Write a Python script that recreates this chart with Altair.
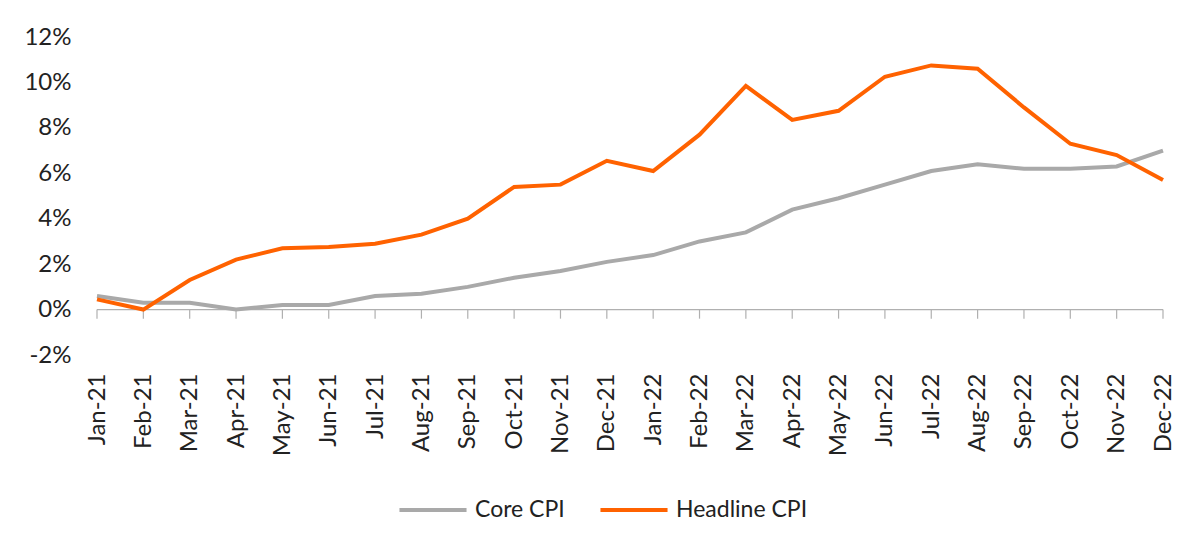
import altair as alt
import pandas as pd

months = ["Jan-21", "Feb-21", "Mar-21", "Apr-21", "May-21", "Jun-21",
          "Jul-21", "Aug-21", "Sep-21", "Oct-21", "Nov-21", "Dec-21",
          "Jan-22", "Feb-22", "Mar-22", "Apr-22", "May-22", "Jun-22",
          "Jul-22", "Aug-22", "Sep-22", "Oct-22", "Nov-22", "Dec-22"]
core_cpi = [0.6, 0.3, 0.3, 0.0, 0.2, 0.2, 0.6, 0.7, 1.0, 1.4, 1.7, 2.1,
            2.4, 3.0, 3.4, 4.4, 4.9, 5.5, 6.1, 6.4, 6.2, 6.2, 6.3, 7.0]
headline_cpi = [0.45, 0.0, 1.3, 2.2, 2.7, 2.75, 2.9, 3.3, 4.0, 5.4, 5.5, 6.55,
                6.1, 7.7, 9.85, 8.35, 8.75, 10.25, 10.75, 10.6, 8.9, 7.3, 6.8, 5.7]
series_names = ["Core CPI", "Headline CPI"]
series_colors = ["#A9A9A9", "#FF6200"]
y_ticks = [-2, 0, 2, 4, 6, 8, 10, 12]

rows = []
for i, m in enumerate(months):
    rows.append({"month": m, "series": series_names[0], "value": core_cpi[i]})
    rows.append({"month": m, "series": series_names[1], "value": headline_cpi[i]})
df = pd.DataFrame(rows)
months_df = pd.DataFrame({"month": months})

FONT = "Lato"
TEXT = "#222222"
AXIS_GREY = "#B0B0B0"

x_enc = alt.X("month:N", sort=months,
              scale=alt.Scale(type="point", padding=0),
              axis=alt.Axis(title=None, labelAngle=-90, labelFontSize=24,
                            labelFont=FONT, labelColor=TEXT, domain=False,
                            ticks=False, labelPadding=18))
y_scale = alt.Scale(domain=[-2, 12], nice=False, zero=False)

lines = alt.Chart(df).mark_line(strokeWidth=4, strokeCap="butt").encode(
    x=x_enc,
    y=alt.Y("value:Q", scale=y_scale,
            axis=alt.Axis(title=None, values=y_ticks, labelExpr="datum.value + '%'",
                          labelFontSize=24, labelFont=FONT, labelColor=TEXT,
                          domain=False, ticks=False, grid=False, labelPadding=26)),
    color=alt.Color("series:N", sort=series_names,
                    scale=alt.Scale(domain=series_names, range=series_colors),
                    legend=alt.Legend(title=None, orient="none", direction="horizontal",
                                      legendX=300, legendY=437,
                                      symbolType="stroke", symbolSize=4500,
                                      symbolStrokeWidth=4, labelFontSize=23,
                                      labelFont=FONT, labelColor=TEXT,
                                      columnPadding=27, labelOffset=6)),
    order=alt.Order("series:N")
)

# Zero baseline across the plot, with a short tick below each month
baseline = alt.Chart(pd.DataFrame({"a": [0]})).mark_rule(color=AXIS_GREY, strokeWidth=1.2).encode(
    x=alt.value(0), x2=alt.value(1066), y=alt.datum(0)
)

ticks = alt.Chart(months_df).mark_rule(color=AXIS_GREY, strokeWidth=1.2).encode(
    x=alt.X("month:N", sort=months),
    y=alt.datum(0),
    y2=alt.datum(-0.4)
)

chart = alt.layer(baseline, ticks, lines).properties(
    width=1066, height=318,
    autosize=alt.AutoSizeParams(type="none"),
    padding={"left": 97, "top": 37, "right": 37, "bottom": 197},
    background="white"
).configure_view(stroke=None)

chart.save("out.html", embed_options={"renderer": "svg", "actions": False})
